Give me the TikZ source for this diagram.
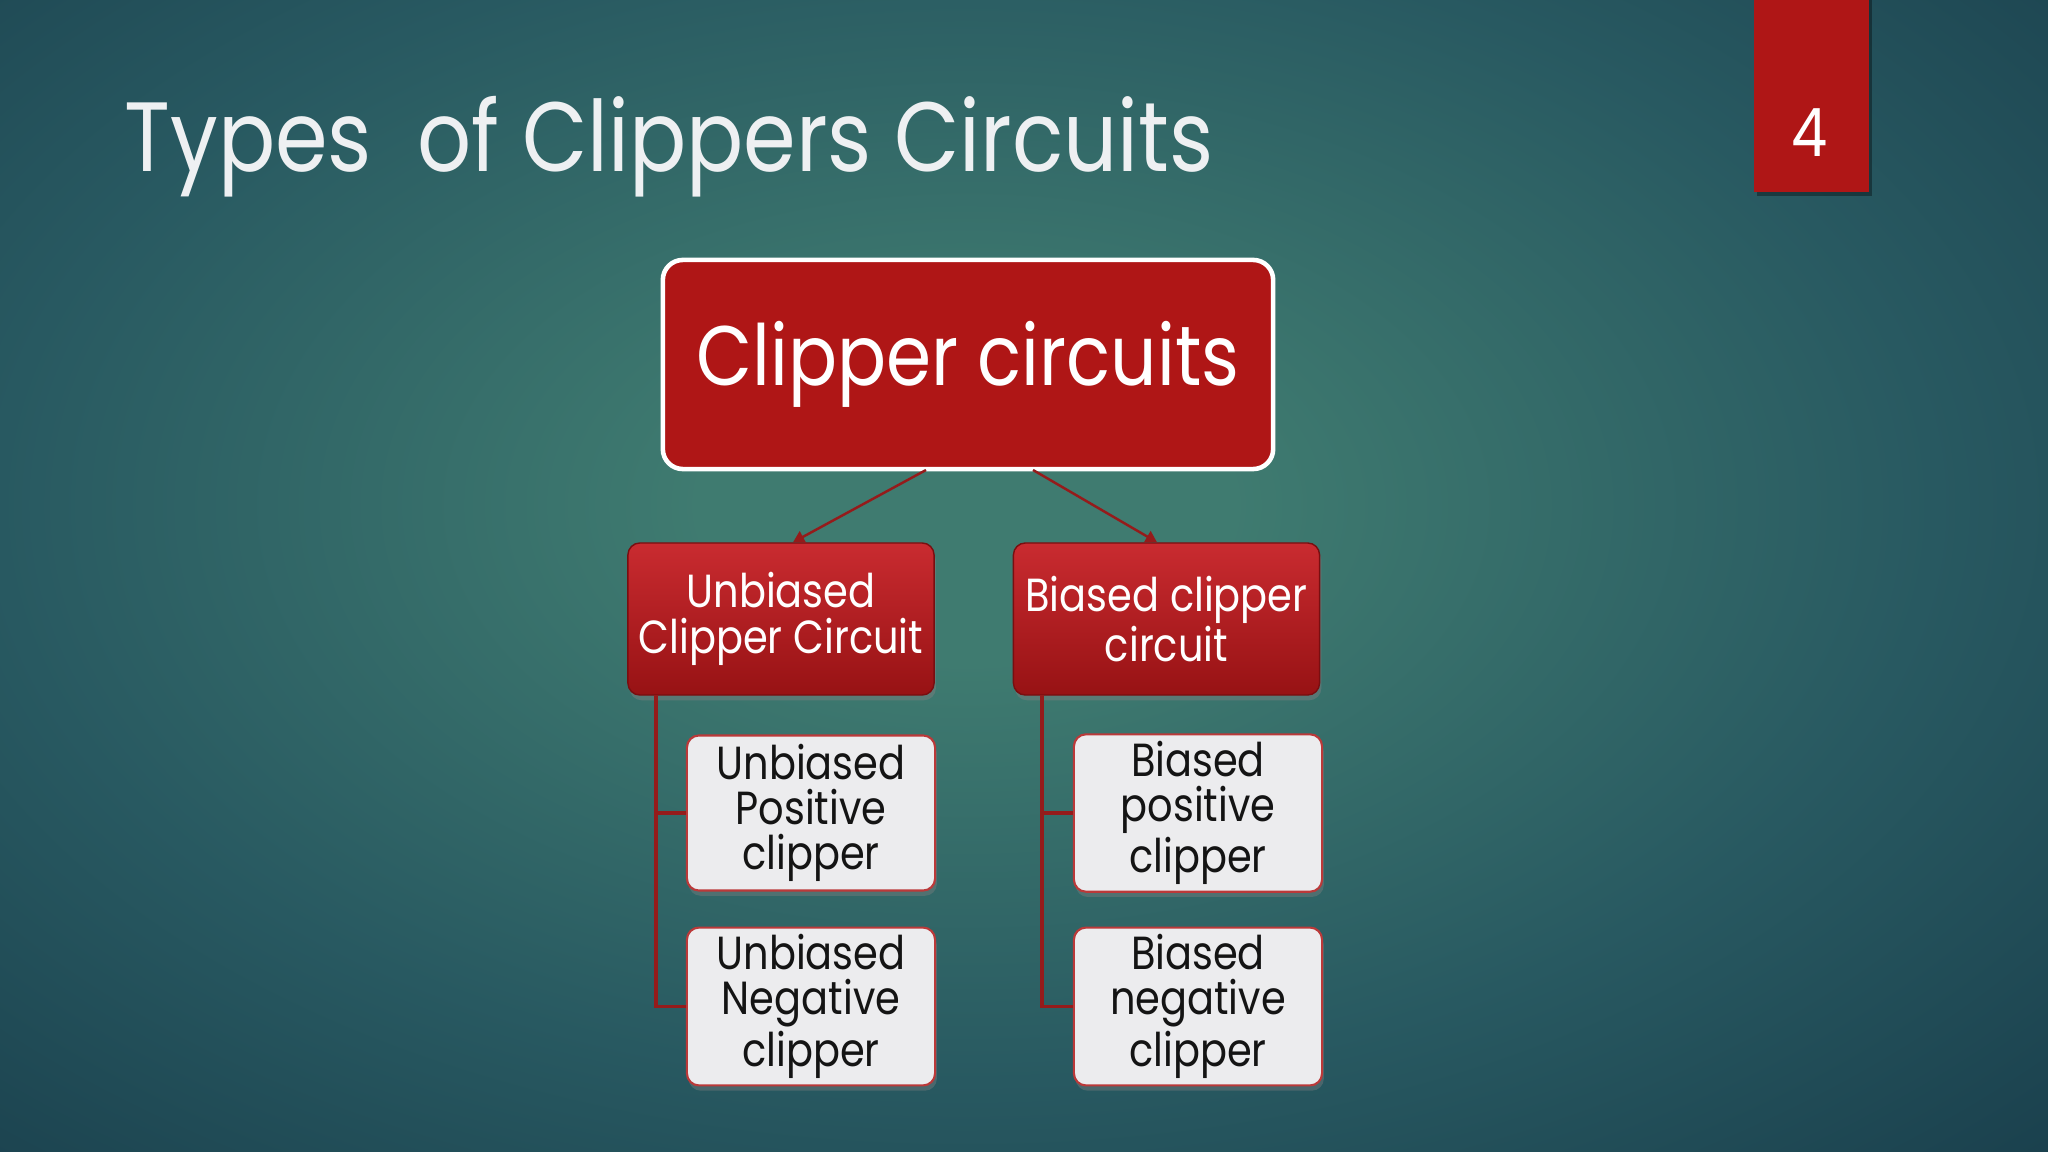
\documentclass[tikz,border=0pt]{standalone}
\usepackage{fontspec}
\setmainfont{Poppins}[FakeStretch=0.86]
\usetikzlibrary{shadows,arrows.meta}
\definecolor{bgc}{HTML}{3F7B70}
\definecolor{bgm}{HTML}{285961}
\definecolor{bge}{HTML}{153746}
\definecolor{cred}{HTML}{AF1616}
\definecolor{credtop}{HTML}{C92B30}
\definecolor{credbot}{HTML}{971214}
\definecolor{cline}{HTML}{951B1B}
\definecolor{cwhite}{HTML}{ECECEE}
\definecolor{ctitle}{HTML}{EEF0F2}
\pgfdeclareradialshading{bgshade}{\pgfpoint{0bp}{0bp}}{color(0bp)=(bgc); color(6bp)=(bgc); color(22bp)=(bgm); color(40bp)=(bge); color(100bp)=(bge)}
\tikzset{
  topbox/.style={rounded corners=0.2cm, fill=cred, draw=white, line width=1.3pt,
    minimum width=6.1cm, minimum height=2.09cm, text=white,
    font=\fontsize{24}{28}\selectfont},
  redbox/.style={rounded corners=0.12cm, top color=credtop, bottom color=credbot,
    draw=credbot!80!black, line width=0.4pt, minimum width=3.06cm, minimum height=1.52cm,
    text=white, align=center, font=\fontsize{13.2}{13.2}\selectfont, inner sep=2pt,
    drop shadow={opacity=0.45, shadow xshift=0.5pt, shadow yshift=-1.5pt}},
  wbox/.style={rounded corners=0.12cm, fill=cwhite, draw=cred!85!white, line width=0.6pt,
    minimum width=2.48cm, minimum height=1.55cm, text=black!92, align=center,
    font=\fontsize{13.2}{12.8}\selectfont, inner sep=2pt,
    drop shadow={opacity=0.4, shadow xshift=0.5pt, shadow yshift=-1.5pt}},
  arr/.style={draw=cline, line width=0.7pt, -{Triangle[length=3.2pt,width=3.6pt]}},
  conn/.style={draw=cline, line width=0.9pt}
}
\begin{document}
\begin{tikzpicture}[x=0.01cm,y=-0.01cm]
\useasboundingbox (0,0) rectangle (2048,1152);
\begin{scope}
\clip (0,0) rectangle (2048,1152);
\shade[shading=bgshade] (-134,-150) rectangle (2066,1160);
\end{scope}
% page number tab
\fill[black, opacity=0.35] (1757,0) rectangle (1872,196);
\fill[cred] (1754,0) rectangle (1869,192);
\node[anchor=base, text=white, font=\fontsize{19}{22}\selectfont, inner sep=0pt] (num) at (1810,157) {4};
% title
\node[anchor=base west, text=ctitle, font=\fontsize{28}{32}\selectfont, inner sep=0pt] (title) at (124,172) {Types~~of Clippers Circuits};
% top box
\node[topbox] (top) at (968,364.5) {Clipper circuits};
% level 2
\node[redbox] (ub) at (781,619) {Unbiased\\Clipper Circuit};
\node[redbox] (bb) at (1166.5,619) {Biased clipper\\circuit};
% level 3
\node[wbox] (up) at (811,813) {Unbiased\\Positive\\clipper};
\node[wbox] (un) at (811,1006.5) {Unbiased\\Negative\\clipper};
\node[wbox] (bp) at (1198,813) {Biased\\positive\\clipper};
\node[wbox] (bn) at (1198,1006.5) {Biased\\negative\\clipper};
% arrows
\coordinate (s1) at (926,470);
\coordinate (s2) at (1033,470);
\draw[arr] (s1) -- (ub.north -| 793,0);
\draw[arr] (s2) -- (bb.north -| 1157,0);
% connectors
\coordinate (l1) at (656,695);
\coordinate (l2) at (1042,695);
\draw[conn] (l1) |- (up.west);
\draw[conn] (l1) |- (un.west);
\draw[conn] (l2) |- (bp.west);
\draw[conn] (l2) |- (bn.west);
\end{tikzpicture}
\end{document}
